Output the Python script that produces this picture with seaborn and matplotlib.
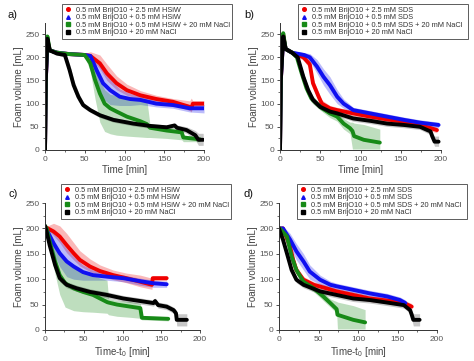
import matplotlib
matplotlib.use('Agg')
import matplotlib.pyplot as plt
from matplotlib.lines import Line2D
from matplotlib.ticker import MultipleLocator
import seaborn as sns

# --- panel a : foam volume vs time (HSiW) ---
a_red_t = [0, 1, 3, 6, 15, 30, 50, 57, 69, 78, 90, 103, 120, 140, 161, 182, 184, 186, 200]
a_red_v = [0, 150, 235, 215, 210, 207, 205, 203, 187, 165, 144, 129, 118, 110, 104, 93, 90, 100, 100]
a_red_lo = [0, 150, 235, 215, 210, 207, 205, 200, 175, 150, 130, 118, 110, 103, 97, 85, 82, 95, 95]
a_red_hi = [0, 150, 235, 215, 210, 207, 208, 212, 205, 185, 160, 142, 128, 118, 111, 106, 112, 106, 106]

a_blue_t = [0, 1, 3, 6, 15, 30, 50, 57, 65, 73, 82, 94, 107, 120, 140, 161, 182, 200]
a_blue_v = [0, 150, 232, 215, 210, 207, 205, 203, 172, 144, 129, 115, 110, 108, 100, 97, 90, 90]
a_blue_lo = [0, 150, 232, 215, 210, 207, 205, 198, 150, 110, 98, 96, 96, 98, 93, 90, 82, 80]
a_blue_hi = [0, 150, 232, 215, 210, 207, 205, 208, 195, 170, 152, 132, 122, 116, 108, 104, 98, 98]

a_green_t = [0, 1, 3, 6, 15, 30, 50, 57, 63, 69, 75, 82, 90, 103, 120, 128, 132, 153, 172, 174, 195]
a_green_v = [0, 160, 245, 215, 210, 207, 205, 187, 151, 122, 100, 90, 83, 72, 62, 56, 48, 42, 38, 27, 23]
a_green_lo = [0, 160, 245, 215, 210, 207, 202, 170, 110, 60, 40, 35, 32, 30, 28, 27, 27, 25, 22, 18, 18]
a_green_hi = [0, 160, 245, 215, 210, 207, 210, 205, 190, 150, 130, 120, 118, 115, 112, 110, 55, 50, 45, 32, 28]

a_black_t = [0, 1, 3, 6, 15, 25, 31, 36, 42, 48, 57, 69, 86, 111, 132, 153, 163, 166, 178, 189, 193, 199]
a_black_v = [0, 150, 240, 215, 208, 205, 172, 140, 115, 97, 86, 75, 65, 57, 52, 49, 53, 48, 43, 32, 22, 22]
a_black_lo = [0, 150, 240, 215, 205, 200, 160, 128, 105, 91, 81, 70, 60, 52, 47, 44, 48, 42, 36, 22, 10, 10]
a_black_hi = [0, 150, 240, 215, 211, 210, 185, 152, 125, 103, 91, 80, 70, 62, 57, 54, 58, 54, 50, 42, 36, 36]

# --- panel b : foam volume vs time (SDS) ---
b_red_t = [0, 1, 4, 7, 15, 29, 37, 41, 48, 52, 62, 71, 91, 112, 133, 154, 174, 195]
b_red_v = [0, 150, 248, 218, 210, 200, 185, 144, 115, 100, 90, 86, 79, 72, 66, 61, 54, 43]
b_red_lo = [0, 150, 248, 218, 206, 194, 175, 134, 105, 90, 84, 80, 73, 66, 60, 55, 48, 37]
b_red_hi = [0, 150, 248, 218, 214, 206, 195, 154, 125, 108, 96, 92, 85, 78, 72, 67, 60, 49]

b_blue_t = [0, 1, 4, 7, 15, 30, 37, 46, 54, 62, 71, 79, 91, 112, 133, 154, 174, 197]
b_blue_v = [0, 150, 245, 218, 210, 205, 200, 180, 158, 140, 115, 100, 86, 79, 72, 65, 59, 54]
b_blue_lo = [0, 150, 245, 218, 206, 200, 192, 165, 140, 120, 100, 90, 80, 73, 66, 59, 53, 48]
b_blue_hi = [0, 150, 245, 218, 214, 210, 208, 195, 175, 158, 130, 110, 92, 85, 78, 71, 65, 60]

b_green_t = [0, 1, 4, 7, 15, 21, 27, 33, 39, 50, 62, 71, 79, 87, 90, 92, 104, 124]
b_green_v = [0, 160, 252, 218, 210, 200, 165, 133, 111, 93, 79, 72, 57, 47, 41, 30, 22, 16]
b_green_lo = [0, 160, 252, 218, 206, 195, 155, 123, 103, 86, 70, 62, 45, 35, 2, 2, 2, 2]
b_green_hi = [0, 160, 252, 218, 214, 205, 175, 143, 119, 100, 88, 80, 68, 60, 60, 58, 55, 45]

b_black_t = [0, 1, 4, 7, 15, 22, 29, 35, 41, 50, 62, 71, 91, 112, 133, 154, 174, 187, 189, 192, 197]
b_black_v = [0, 150, 245, 218, 210, 200, 158, 129, 108, 93, 83, 79, 68, 63, 57, 54, 50, 40, 30, 18, 18]
b_black_lo = [0, 150, 245, 218, 206, 195, 148, 120, 100, 87, 77, 73, 62, 57, 51, 48, 44, 33, 22, 8, 8]
b_black_hi = [0, 150, 245, 218, 214, 206, 168, 138, 116, 99, 89, 85, 74, 69, 63, 60, 56, 47, 38, 30, 30]

# --- panel c : foam volume vs time - t0 (HSiW) ---
c_red_t = [0, 11, 19, 28, 37, 45, 58, 71, 88, 105, 123, 138, 139, 157]
c_red_v = [203, 194, 184, 167, 151, 138, 125, 116, 108, 102, 95, 89, 102, 102]
c_red_lo = [203, 186, 172, 152, 138, 126, 115, 107, 99, 93, 85, 80, 97, 97]
c_red_hi = [203, 210, 205, 190, 172, 156, 140, 128, 118, 112, 108, 102, 107, 107]

c_blue_t = [0, 11, 19, 28, 37, 49, 62, 80, 101, 123, 140, 157]
c_blue_v = [203, 171, 151, 135, 125, 114, 108, 105, 102, 96, 92, 90]
c_blue_lo = [203, 150, 125, 105, 100, 98, 98, 98, 95, 88, 84, 84]
c_blue_hi = [203, 190, 178, 160, 145, 128, 118, 112, 108, 102, 98, 96]

c_green_t = [0, 2, 6, 13, 19, 26, 37, 49, 62, 71, 80, 82, 93, 110, 123, 125, 159]
c_green_v = [205, 200, 174, 135, 108, 92, 82, 75, 69, 62, 55, 54, 50, 46, 43, 24, 22]
c_green_lo = [205, 195, 160, 110, 70, 45, 38, 36, 35, 34, 33, 30, 27, 25, 23, 20, 18]
c_green_hi = [205, 205, 195, 170, 150, 135, 125, 115, 108, 102, 98, 62, 58, 56, 52, 28, 26]

c_black_t = [0, 2, 6, 13, 19, 28, 41, 58, 80, 101, 123, 140, 142, 146, 157, 166, 169, 170, 183]
c_black_v = [205, 194, 167, 128, 102, 89, 82, 75, 69, 62, 57, 53, 57, 49, 46, 39, 33, 20, 20]
c_black_lo = [205, 188, 160, 121, 95, 83, 76, 69, 63, 56, 51, 47, 51, 43, 40, 33, 25, 8, 8]
c_black_hi = [205, 200, 174, 135, 109, 95, 88, 81, 75, 68, 63, 59, 63, 55, 52, 45, 40, 32, 32]

# --- panel d : foam volume vs time - t0 (SDS) ---
d_red_t = [0, 5, 14, 18, 22, 31, 44, 60, 73, 94, 115, 137, 158, 168]
d_red_v = [200, 200, 164, 138, 118, 99, 89, 82, 76, 69, 62, 58, 53, 46]
d_red_lo = [200, 196, 156, 130, 110, 93, 83, 76, 70, 63, 56, 52, 47, 40]
d_red_hi = [200, 204, 172, 146, 126, 105, 95, 88, 82, 75, 68, 64, 59, 52]

d_blue_t = [0, 5, 14, 22, 31, 39, 52, 65, 73, 94, 115, 137, 153, 160]
d_blue_v = [200, 200, 178, 155, 135, 115, 99, 89, 86, 79, 72, 66, 59, 53]
d_blue_lo = [200, 195, 163, 138, 118, 100, 90, 82, 80, 73, 66, 60, 53, 47]
d_blue_hi = [200, 205, 190, 170, 150, 128, 108, 96, 92, 85, 78, 72, 65, 59]

d_green_t = [0, 1, 10, 16, 22, 31, 44, 56, 65, 73, 74, 94, 109]
d_green_v = [200, 200, 184, 145, 118, 95, 82, 66, 53, 41, 30, 20, 15]
d_green_lo = [200, 200, 180, 138, 110, 88, 75, 58, 45, 33, 2, 2, 2]
d_green_hi = [200, 200, 190, 152, 126, 102, 89, 74, 61, 56, 55, 48, 40]

d_black_t = [0, 1, 5, 10, 16, 22, 31, 52, 73, 94, 115, 137, 158, 166, 168, 170, 178]
d_black_v = [200, 195, 178, 151, 118, 99, 89, 76, 69, 62, 59, 54, 49, 39, 30, 20, 20]
d_black_lo = [200, 190, 171, 144, 111, 93, 83, 70, 63, 56, 53, 48, 43, 33, 22, 8, 8]
d_black_hi = [200, 200, 185, 158, 125, 105, 95, 82, 75, 68, 65, 60, 55, 45, 38, 32, 32]

labels_hsiw = ['0.5 mM BrijO10 + 2.5 mM HSiW', '0.5 mM BrijO10 + 0.5 mM HSiW',
               '0.5 mM BrijO10 + 0.5 mM HSiW + 20 mM NaCl', '0.5 mM BrijO10 + 20 mM NaCl']
labels_sds = ['0.5 mM BrijO10 + 2.5 mM SDS', '0.5 mM BrijO10 + 0.5 mM SDS',
              '0.5 mM BrijO10 + 0.5 mM SDS + 20 mM NaCl', '0.5 mM BrijO10 + 20 mM NaCl']

RED, BLUE, GREEN, BLACK = '#f00000', '#1010f0', '#178a17', '#000000'
colors = [RED, BLUE, GREEN, BLACK]
markers = ['o', '^', 's', 's']

sns.set_style('ticks')
plt.rcParams['font.family'] = ['Liberation Sans', 'DejaVu Sans']
plt.rcParams['mathtext.default'] = 'regular'

W, H = 474, 361
fig = plt.figure(figsize=(W / 100, H / 100), dpi=100)


def px_axes(left, top, right, bottom):
    return fig.add_axes([left / W, 1 - bottom / H, (right - left) / W, (bottom - top) / H])


def panel(ax, series, labels, xlabel, ytop, leg_left, leg_top):
    for t, v, lo, hi, c in series:
        ax.fill_between(t, lo, hi, color=c, alpha=0.28 if c != BLACK else 0.22, lw=0)
    for t, v, lo, hi, c in series:
        sns.lineplot(x=t, y=v, ax=ax, color=c, linewidth=2.8, estimator=None, sort=False)
    ax.set_xlim(0, 200)
    ax.set_ylim(0, ytop)
    ax.set_yticks([0, 50, 100, 150, 200, 250])
    ax.set_xticks([0, 50, 100, 150, 200])
    ax.xaxis.set_minor_locator(MultipleLocator(25))
    ax.yaxis.set_minor_locator(MultipleLocator(25))
    ax.tick_params(which='major', length=2.5, width=0.6, labelsize=6, colors='#333333',
                   labelcolor='#555555', pad=1.5)
    ax.tick_params(which='minor', length=1.5, width=0.5, colors='#333333')
    for s in ['left', 'bottom']:
        ax.spines[s].set_linewidth(0.7)
        ax.spines[s].set_color('#333333')
    sns.despine(ax=ax)
    ax.set_xlabel(xlabel, fontsize=7, color='#444444', labelpad=2)
    ax.set_ylabel('Foam volume [mL]', fontsize=7, color='#444444', labelpad=1)
    handles = [Line2D([], [], marker=m, color=c, linestyle='none', markersize=2.6)
               for m, c in zip(markers, colors)]
    leg = ax.legend(handles, labels, loc='upper left',
                    bbox_to_anchor=(leg_left / W, 1 - leg_top / H - 0.2, 170 / W, 0.2),
                    bbox_transform=fig.transFigure, mode='expand', borderaxespad=0,
                    fontsize=5.3, labelspacing=0.05, handlelength=1.0, handletextpad=0.6,
                    borderpad=0.35, fancybox=False, frameon=True)
    leg.get_frame().set_edgecolor('#333333')
    leg.get_frame().set_linewidth(0.7)
    for txt in leg.get_texts():
        txt.set_color('#333333')


ax_a = px_axes(45, 23, 204, 150)
panel(ax_a, [(a_red_t, a_red_v, a_red_lo, a_red_hi, RED),
             (a_blue_t, a_blue_v, a_blue_lo, a_blue_hi, BLUE),
             (a_green_t, a_green_v, a_green_lo, a_green_hi, GREEN),
             (a_black_t, a_black_v, a_black_lo, a_black_hi, BLACK)],
      labels_hsiw, 'Time [min]', 274, 62, 4)

ax_b = px_axes(280, 23, 441, 150)
panel(ax_b, [(b_red_t, b_red_v, b_red_lo, b_red_hi, RED),
             (b_blue_t, b_blue_v, b_blue_lo, b_blue_hi, BLUE),
             (b_green_t, b_green_v, b_green_lo, b_green_hi, GREEN),
             (b_black_t, b_black_v, b_black_lo, b_black_hi, BLACK)],
      labels_sds, 'Time [min]', 274, 298, 4)

ax_c = px_axes(45, 203, 200, 330)
panel(ax_c, [(c_red_t, c_red_v, c_red_lo, c_red_hi, RED),
             (c_blue_t, c_blue_v, c_blue_lo, c_blue_hi, BLUE),
             (c_green_t, c_green_v, c_green_lo, c_green_hi, GREEN),
             (c_black_t, c_black_v, c_black_lo, c_black_hi, BLACK)],
      labels_hsiw, 'Time-t$_0$ [min]', 250, 61, 184)

ax_d = px_axes(279, 203, 437, 330)
panel(ax_d, [(d_red_t, d_red_v, d_red_lo, d_red_hi, RED),
             (d_blue_t, d_blue_v, d_blue_lo, d_blue_hi, BLUE),
             (d_green_t, d_green_v, d_green_lo, d_green_hi, GREEN),
             (d_black_t, d_black_v, d_black_lo, d_black_hi, BLACK)],
      labels_sds, 'Time-t$_0$ [min]', 250, 297, 184)

for lab, x, y in [('a)', 13, 15), ('b)', 249, 15), ('c)', 13, 194), ('d)', 249, 194)]:
    fig.text(x / W, 1 - y / H, lab, fontsize=8, ha='center', va='center', color='#111111')

fig.savefig('out.png', dpi=100)
